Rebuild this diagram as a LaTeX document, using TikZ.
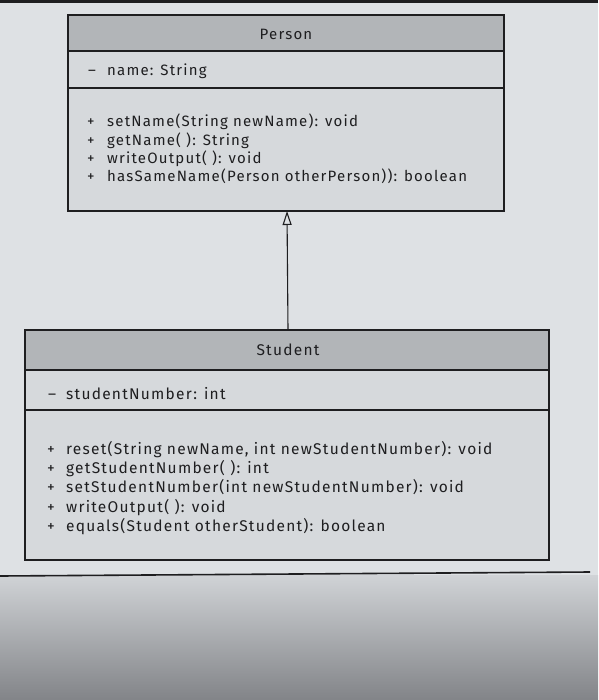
\documentclass[tikz,border=0pt]{standalone}
\usepackage{fontspec}
\setmainfont{Fira Sans}[LetterSpace=8]
\usetikzlibrary{arrows.meta}
\definecolor{paper}{RGB}{222,225,228}
\definecolor{boxbody}{RGB}{214,217,220}
\definecolor{boxhead}{RGB}{178,181,184}
\definecolor{ink}{RGB}{30,30,32}
\definecolor{shadowgray}{RGB}{130,132,136}
\begin{document}
\begin{tikzpicture}[x=1pt,y=-1pt,
  boxline/.style={draw=ink,line width=1.1pt},
  ptext/.style={font=\fontsize{15}{17}\selectfont,text=ink,inner sep=0pt},
  stext/.style={font=\fontsize{15.5}{17}\selectfont,text=ink,inner sep=0pt},
  pmember/.style={ptext,anchor=base west},
  smember/.style={stext,anchor=base west},
  inherit/.style={draw=ink,line width=1.1pt,-{Triangle[open,length=14pt,width=9pt,line width=1.1pt]}}]
\useasboundingbox (0,0) rectangle (598,700);
% page
\fill[paper] (0,0) rectangle (598,700);
\shade[top color=paper!85!shadowgray,bottom color=shadowgray] (0,575) rectangle (598,700);
\fill[ink] (0,0) rectangle (598,3);
\draw[ink,line width=1.6pt] (0,576) -- (590,572);
% Person box
\fill[boxbody] (68,15) rectangle (504,211);
\fill[boxhead] (68,15) rectangle (504,51);
\draw[boxline] (68,15) rectangle (504,211);
\draw[boxline] (68,51) -- (504,51);
\draw[boxline] (68,88) -- (504,88);
\node[ptext] (ptitle) at (286,34) {Person};
\node[pmember] (pa1s) at (88,76) {–};
\node[pmember] (pa1) at (107,76) {name: String};
\node[pmember] (pm1s) at (87,127) {+};
\node[pmember] (pm1) at (107,127) {setName(String newName): void};
\node[pmember] (pm2s) at (87,146) {+};
\node[pmember] (pm2) at (107,146) {getName( ): String};
\node[pmember] (pm3s) at (87,164) {+};
\node[pmember] (pm3) at (107,164) {writeOutput( ): void};
\node[pmember] (pm4s) at (87,182) {+};
\node[pmember] (pm4) at (107,182) {hasSameName(Person otherPerson)): boolean};
\coordinate (pbot) at (287,211);
% Student box
\fill[boxbody] (25,330) rectangle (549,560);
\fill[boxhead] (25,330) rectangle (549,370);
\draw[boxline] (25,330) rectangle (549,560);
\draw[boxline] (25,370) -- (549,370);
\draw[boxline] (25,410) -- (549,410);
\node[stext] (stitle) at (288,350) {Student};
\node[smember] (sa1s) at (48,399) {–};
\node[smember] (sa1) at (66,399) {studentNumber: int};
\node[smember] (sm1s) at (47,454) {+};
\node[smember] (sm1) at (66,454) {reset(String newName, int newStudentNumber): void};
\node[smember] (sm2s) at (47,473) {+};
\node[smember] (sm2) at (66,473) {getStudentNumber( ): int};
\node[smember] (sm3s) at (47,492) {+};
\node[smember] (sm3) at (66,492) {setStudentNumber(int newStudentNumber): void};
\node[smember] (sm4s) at (47,512) {+};
\node[smember] (sm4) at (66,512) {writeOutput( ): void};
\node[smember] (sm5s) at (47,531) {+};
\node[smember] (sm5) at (66,531) {equals(Student otherStudent): boolean};
\coordinate (stop) at (288,330);
% generalization
\draw[inherit] (stop) -- (pbot);
\end{tikzpicture}
\end{document}
